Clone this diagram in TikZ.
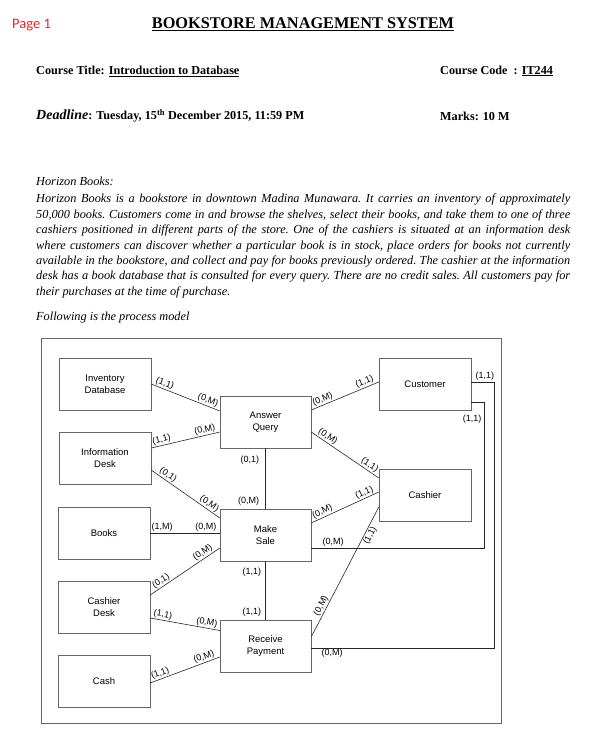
\documentclass[tikz,border=0pt]{standalone}
\usepackage{fontspec}
\setmainfont{Liberation Serif}
\setsansfont{Liberation Sans}
\newfontfamily\calibri{Carlito}
\usetikzlibrary{positioning}

\definecolor{pagered}{RGB}{210,45,45}
\tikzset{
  box/.style={draw=black!60, minimum width=92pt, minimum height=52pt, inner sep=0pt,
    align=center, font=\sffamily\fontsize{9.5}{12}\selectfont},
  card/.style={font=\sffamily\fontsize{9}{10}\selectfont, inner sep=1pt},
  conn/.style={draw=black!85, line width=0.6pt},
  head/.style={anchor=west, inner sep=0pt, font=\bfseries\fontsize{12.2}{14}\selectfont},
}

\begin{document}
\begin{tikzpicture}[x=1pt,y=-1pt]
\useasboundingbox (0,0) rectangle (605,730);
% header
\node [anchor=west, inner sep=0pt, text=pagered, font=\calibri\fontsize{14.5}{16}\selectfont] (page) at (12,25) {Page 1};
\node [inner sep=0pt, font=\bfseries\fontsize{16.3}{18}\selectfont] (title) at (303,24) {\underline{BOOKSTORE MANAGEMENT SYSTEM}};
\node [head] (course) at (36,71) {Course Title: \underline{Introduction to Database}};
\node [head] (code) at (440,71) {Course Code~ : \underline{IT244}};
\node [head] (deadline) at (36,116) {{\itshape\fontsize{14}{16}\selectfont Deadline}: Tuesday, 15\textsuperscript{th} December 2015, 11:59 PM};
\node [head] (marks) at (440,116) {Marks: 10 M};
% description
\node [anchor=west, inner sep=0pt, font=\itshape\fontsize{12.3}{14}\selectfont] (horizon) at (36,181) {Horizon Books:};
\node [anchor=north west, inner sep=0pt, text width=534pt, align=justify, font=\itshape\fontsize{12.3}{15.4}\selectfont\frenchspacing] (story) at (36,194) {Horizon Books is a bookstore in downtown Madina Munawara. It carries an inventory of approximately\linebreak
50,000 books. Customers come in and browse the shelves, select their books, and take them to one of three\linebreak
cashiers positioned in different parts of the store. One of the cashiers is situated at an information desk\linebreak
where customers can discover whether a particular book is in stock, place orders for books not currently\linebreak
available in the bookstore, and collect and pay for books previously ordered. The cashier at the information\linebreak
desk has a book database that is consulted for every query. There are no credit sales. All customers pay for\linebreak
their purchases at the time of purchase.};
\node [anchor=west, inner sep=0pt, font=\itshape\fontsize{12.3}{14}\selectfont] (follow) at (36,318) {Following is the process model};
% process model
\draw [black!60] (41,338) rectangle (501,723);
\node [box] (inv) at (105,384) {Inventory\\Database};
\node [box] (info) at (105,458) {Information\\Desk};
\node [box] (books) at (104,533) {Books};
\node [box] (cdesk) at (104,607) {Cashier\\Desk};
\node [box] (cash) at (104,681.5) {Cash};
\node [box, minimum width=91pt] (query) at (265.5,422) {Answer\\Query};
\node [box, minimum width=91pt] (sale) at (265.5,535) {Make\\Sale};
\node [box, minimum width=91pt] (pay) at (265.5,646.5) {Receive\\Payment};
\node [box] (cust) at (425,384) {Customer};
\node [box] (cashier) at (425,495) {Cashier};
% left side
\draw [conn] (inv.east) -- node[card, sloped, above, pos=0.17] {(1,1)} node[card, sloped, above, pos=0.8] {(0,M)} ([yshift=11pt]query.west);
\draw [conn] ([yshift=10pt]info.east) -- node[card, sloped, above, pos=0.17] {(1,1)} node[card, sloped, above, pos=0.8] {(0,M)} ([yshift=-10pt]query.west);
\draw [conn] ([yshift=-12pt]info.east) -- node[card, sloped, above, pos=0.2] {(0,1)} node[card, sloped, above, pos=0.8] {(0,M)} ([yshift=17pt]sale.west);
\draw [conn] (books.east) -- node[card, above, pos=0.17] {(1,M)} node[card, above, pos=0.8] {(0,M)} (books.east -| sale.west);
\draw [conn] ([yshift=12pt]cdesk.east) -- node[card, sloped, above, pos=0.2] {(0,1)} node[card, sloped, above, pos=0.8] {(0,M)} ([yshift=-13pt]sale.west);
\draw [conn] ([yshift=-11pt]cdesk.east) -- node[card, sloped, above, pos=0.17] {(1,1)} node[card, sloped, above, pos=0.8] {(0,M)} ([yshift=16pt]pay.west);
\draw [conn] ([yshift=-1.5pt]cash.east) -- node[card, sloped, above, pos=0.17] {(1,1)} node[card, sloped, above, pos=0.8] {(0,M)} ([yshift=-10.5pt]pay.west);
% middle
\draw [conn] (query.south) -- node[card, anchor=east, xshift=-5pt, pos=0.2] {(0,1)} node[card, anchor=east, xshift=-5pt, pos=0.88] {(0,M)} (sale.north);
\draw [conn] (sale.south) -- node[card, anchor=east, xshift=-3pt, pos=0.18] {(1,1)} node[card, anchor=east, xshift=-3pt, pos=0.87] {(1,1)} (pay.north);
% right side
\draw [conn] ([yshift=12pt]query.east) -- node[card, sloped, above, pos=0.2] {(0,M)} node[card, sloped, above, pos=0.82] {(1,1)} ([yshift=2pt]cust.west);
\draw [conn] ([yshift=-10pt]query.east) -- node[card, sloped, above, pos=0.2] {(0,M)} node[card, sloped, above, pos=0.82] {(1,1)} ([yshift=17pt]cashier.west);
\draw [conn] ([yshift=12pt]sale.east) -- node[card, sloped, above, pos=0.2] {(0,M)} node[card, sloped, above, pos=0.82] {(1,1)} ([yshift=3pt]cashier.west);
\draw [conn] ([yshift=9.5pt]pay.east) -- node[card, sloped, above, pos=0.22] {(0,M)} node[card, sloped, below, pos=0.8] {(1,1)} ([yshift=-12pt]cashier.west);
\draw [conn] ([yshift=-13pt]sale.east) node[card, anchor=south west, xshift=10pt] {(0,M)}
  -| ([xshift=13pt,yshift=-18pt]cust.east) -- ([yshift=-18pt]cust.east)
  node[card, anchor=north, xshift=1pt, yshift=-12pt] {(1,1)};
\draw [conn] ([yshift=2pt]cust.east) node[card, anchor=south west, xshift=3pt] {(1,1)}
  -- ([xshift=23pt,yshift=2pt]cust.east) |- ([yshift=-1.5pt]pay.east)
  node[card, anchor=north west, xshift=9pt] {(0,M)};
\end{tikzpicture}
\end{document}
